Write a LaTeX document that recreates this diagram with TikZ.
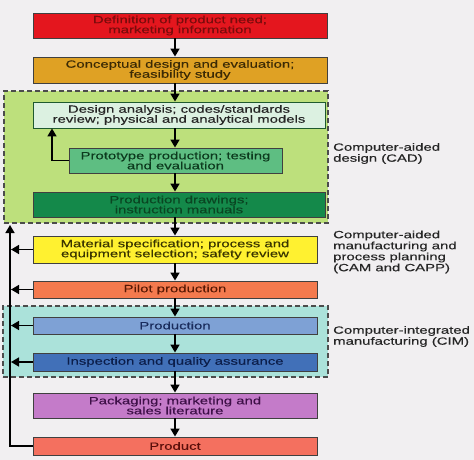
\documentclass[tikz,border=0pt]{standalone}
\usepackage{fontspec}
\setmainfont{Liberation Sans}[FakeStretch=1.42,FakeBold=0.35]
\usetikzlibrary{arrows.meta}

\definecolor{bgpaper}{HTML}{F1EFF1}
\definecolor{needfill}{HTML}{E4161E}
\definecolor{needtext}{HTML}{7A0C0C}
\definecolor{conceptfill}{HTML}{DFA124}
\definecolor{concepttext}{HTML}{3B2A05}
\definecolor{cadzone}{HTML}{BDE07C}
\definecolor{analysisfill}{HTML}{DCF1E1}
\definecolor{analysisline}{HTML}{1F5A2E}
\definecolor{protofill}{HTML}{5EBE82}
\definecolor{prototext}{HTML}{0D3A1E}
\definecolor{drawfill}{HTML}{14894A}
\definecolor{drawtext}{HTML}{0A4522}
\definecolor{matfill}{HTML}{FFF130}
\definecolor{mattext}{HTML}{3A3500}
\definecolor{pilotfill}{HTML}{F47A4E}
\definecolor{pilottext}{HTML}{5A1A05}
\definecolor{cimzone}{HTML}{ABE2DA}
\definecolor{prodfill}{HTML}{7EA1D5}
\definecolor{prodtext}{HTML}{1A2C5C}
\definecolor{inspfill}{HTML}{4170B8}
\definecolor{insptext}{HTML}{0C1E4A}
\definecolor{packfill}{HTML}{C47BC9}
\definecolor{packtext}{HTML}{3E1048}
\definecolor{productfill}{HTML}{F4705F}
\definecolor{producttext}{HTML}{5A0E0A}

\newcommand{\boxfont}{\fontsize{10.5}{10}\selectfont}
\newcommand{\notefont}{\fontsize{10.5}{11}\selectfont}

\tikzset{
  stagebox/.style={draw=black!75, line width=0.9pt, inner sep=0pt, align=center, font=\boxfont},
  zone/.style={draw=black!70, dash pattern=on 5pt off 3pt, line width=1.1pt, inner sep=0pt},
  flow/.style={line width=1.6pt, -{Triangle[width=9pt,length=8pt]}},
  sidenote/.style={anchor=west, align=left, inner sep=0pt, font=\notefont, text=black!85}
}

\begin{document}
\begin{tikzpicture}[x=1pt,y=-1pt]
    \fill[bgpaper] (0,0) rectangle (474,460);
    \useasboundingbox (0,0) rectangle (474,460);

%zones
    \node[zone, fill=cadzone, minimum width=324pt, minimum height=132pt] (cad) at (166,157) {};
    \node[zone, fill=cimzone, minimum width=325pt, minimum height=71pt] (cim) at (165.5,341.5) {};

%design
    \node[stagebox, fill=needfill, text=needtext, minimum width=294pt, minimum height=25pt] (need) at (180,25.5)
        {Definition of product need;\\marketing information};
    \node[stagebox, fill=conceptfill, text=concepttext, minimum width=294pt, minimum height=26pt] (concept) at (180,70)
        {Conceptual design and evaluation;\\feasibility study};
    \node[stagebox, draw=analysisline, fill=analysisfill, text=black!85, minimum width=292pt, minimum height=26pt] (analysis) at (179,115)
        {Design analysis; codes/standards\\review; physical and analytical models};
    \node[stagebox, fill=protofill, text=prototext, minimum width=213pt, minimum height=25pt] (proto) at (175.5,160.5)
        {Prototype production; testing\\and evaluation};
    \node[stagebox, fill=drawfill, text=drawtext, minimum width=292pt, minimum height=25pt] (drawings) at (179,204.5)
        {Production drawings;\\instruction manuals};

%manufacturing
    \node[stagebox, fill=matfill, text=mattext, minimum width=284pt, minimum height=27pt] (material) at (175,249.5)
        {Material specification; process and\\equipment selection; safety review};
    \node[stagebox, fill=pilotfill, text=pilottext, minimum width=284pt, minimum height=17pt] (pilot) at (175,289.5)
        {Pilot production};
    \node[stagebox, fill=prodfill, text=prodtext, minimum width=284pt, minimum height=17pt] (production) at (175,325.5)
        {Production};
    \node[stagebox, fill=inspfill, text=insptext, minimum width=284pt, minimum height=18pt] (inspection) at (175,362)
        {Inspection and quality assurance};
    \node[stagebox, fill=packfill, text=packtext, minimum width=284pt, minimum height=25pt] (packaging) at (175,405.5)
        {Packaging; marketing and\\sales literature};
    \node[stagebox, fill=productfill, text=producttext, minimum width=284pt, minimum height=18pt] (product) at (175,446)
        {Product};

%notes
    \node[sidenote] (cadnote) at (333,153.5) {Computer-aided\\design (CAD)};
    \node[sidenote] (camnote) at (333,252) {Computer-aided\\manufacturing and\\process planning\\(CAM and CAPP)};
    \node[sidenote] (cimnote) at (333,336.5) {Computer-integrated\\manufacturing (CIM)};

%main flow
    \coordinate (col) at (175,0);
    \draw[flow] (need.south -| col) -- (concept.north -| col);
    \draw[flow] (concept.south -| col) -- (analysis.north -| col);
    \draw[flow] (analysis.south -| col) -- (proto.north -| col);
    \draw[flow] (proto.south -| col) -- (drawings.north -| col);
    \draw[flow] (drawings.south -| col) -- (material.north -| col);
    \draw[flow] (material.south -| col) -- (pilot.north -| col);
    \draw[flow] (pilot.south -| col) -- (production.north -| col);
    \draw[flow] (production.south -| col) -- (inspection.north -| col);
    \draw[flow] (inspection.south -| col) -- (packaging.north -| col);
    \draw[flow] (packaging.south -| col) -- (product.north -| col);

%prototype feedback
    \coordinate (back) at (52,0);
    \draw[flow] (proto.west) -- (proto.west -| back) -- (analysis.south -| back);

%outer feedback
    \coordinate (loop) at (10,225);
    \draw[flow] (product.west) -- (product.west -| loop) -- (loop);
    \draw[flow, shorten >=1pt] (material.west) -- (material.west -| loop);
    \draw[flow, shorten >=1pt] (pilot.west) -- (pilot.west -| loop);
    \draw[flow, shorten >=1pt] (production.west) -- (production.west -| loop);
    \draw[flow, shorten >=1pt] (inspection.west) -- (inspection.west -| loop);

\end{tikzpicture}
\end{document}
